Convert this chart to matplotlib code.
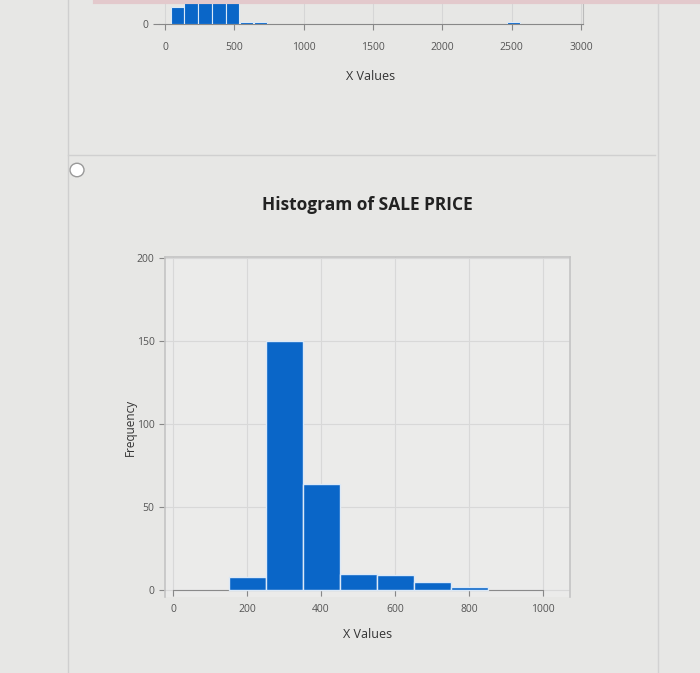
import matplotlib
matplotlib.use("Agg")
from matplotlib import pyplot as plt
from matplotlib.lines import Line2D
from matplotlib.patches import Circle

# main histogram: SALE PRICE, bins of 100
bin_left = [150, 250, 350, 450, 550, 650, 750]
bin_count = [8, 150, 64, 10, 9, 5, 2]
bin_width = 100

# histogram above (only its lower edge is visible)
top_left = [43, 140, 240, 340, 440, 540, 640, 2465]
top_count = [10, 40, 150, 65, 30, 1, 1, 1]
top_width = 97

x_ticks_top = [0, 500, 1000, 1500, 2000, 2500, 3000]
x_ticks = [0, 200, 400, 600, 800, 1000]
y_ticks = [0, 50, 100, 150, 200]

plt.rcParams['font.family'] = ['Open Sans', 'DejaVu Sans']
bar_color = '#0a66c8'
bg = '#e7e7e5'
tick_gray = '#555555'

fig = plt.figure(figsize=(7, 6.73), dpi=100)
fig.patch.set_facecolor(bg)

W, H = 700.0, 673.0

# ---- top chart (cut off)
ax0 = fig.add_axes([159 / W, (H - 24) / H, (583 - 159) / W, 337 / H])
ax0.set_facecolor(bg)
ax0.bar(top_left, top_count, width=top_width, align='edge',
        color=bar_color, edgecolor='#dce9f7', linewidth=0.8, zorder=3)
ax0.set_xlim(-43, 3015)
ax0.set_ylim(0, 200)
ax0.set_xticks(x_ticks_top)
ax0.set_yticks([0])
ax0.tick_params(axis='both', colors='#888888', labelcolor=tick_gray,
                labelsize=7.5, length=4)
ax0.tick_params(axis='x', pad=9)
ax0.grid(axis='x', color='#d6d6d6', linewidth=0.8, zorder=0)
for s in ['top', 'left']:
    ax0.spines[s].set_visible(False)
ax0.spines['right'].set_color('#bbbbbb')
ax0.spines['bottom'].set_color('#888888')
ax0.set_xlabel('X Values', fontsize=9, color='#333333', labelpad=12)

# ---- main chart
ax = fig.add_axes([165 / W, 76 / H, 405 / W, 340 / H])
ax.set_facecolor('#ebebea')
ax.bar(bin_left, bin_count, width=bin_width, align='edge',
       color=bar_color, edgecolor='#dce9f7', linewidth=1.0, zorder=3)
ax.set_xlim(-22, 1073)
ax.set_ylim(-4, 200.5)
ax.set_xticks(x_ticks)
ax.set_yticks(y_ticks)
ax.grid(color='#d8d8d8', linewidth=0.8, zorder=0)
for s in ['top', 'right', 'left']:
    ax.spines[s].set_color('#c4c4c4')
    ax.spines[s].set_linewidth(1.2)
ax.spines['bottom'].set_position(('data', 0))
ax.spines['bottom'].set_bounds(0, 1000)
ax.spines['bottom'].set_color('#8a8a8a')
ax.spines['bottom'].set_zorder(2)
ax.tick_params(axis='both', colors='#888888', labelcolor=tick_gray,
               labelsize=7.5, length=4)
ax.tick_params(axis='x', pad=6)
ax.set_xlabel('X Values', fontsize=9, color='#333333', labelpad=9)
ax.set_ylabel('Frequency', fontsize=8.5, color='#333333', labelpad=0)
ax.set_title('Histogram of SALE PRICE', fontsize=12.5, fontweight='bold',
             color='#222222', pad=34)

# page decorations from the screenshot
fig.add_artist(Line2D([68 / W, 68 / W], [0, 1], color='#cfcfcf', lw=1))
fig.add_artist(Line2D([658 / W, 658 / W], [0, 1], color='#d2d2d2', lw=1))
fig.add_artist(Line2D([68 / W, 655 / W], [(H - 155) / H, (H - 155) / H],
                      color='#d0d0d0', lw=1))
fig.add_artist(Line2D([95 / W, 1], [1 - 1.5 / H, 1 - 1.5 / H],
                      color='#e3c9cc', lw=3))
fig.add_artist(Circle((77 / W, (H - 170) / H), 7 / W, transform=fig.transFigure,
                      facecolor='white', edgecolor='#999999', lw=1))

fig.savefig('out.png', dpi=100, facecolor=fig.get_facecolor())
